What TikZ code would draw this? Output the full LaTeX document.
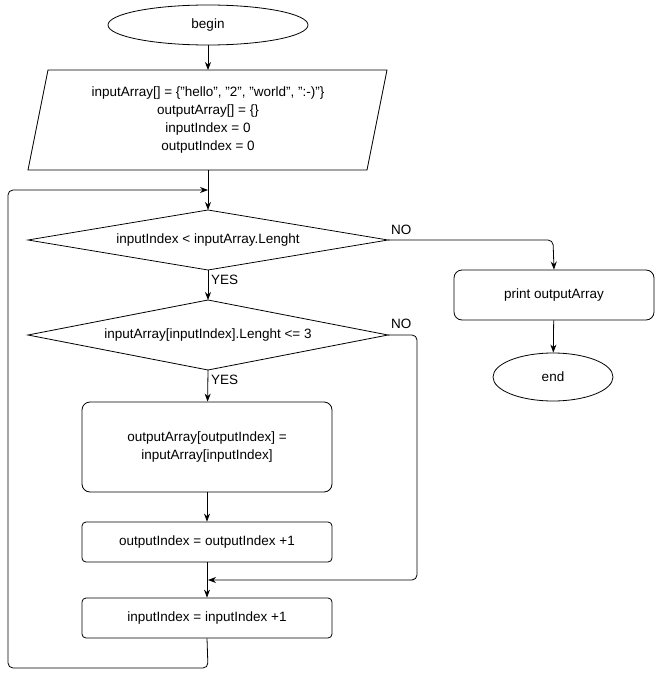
\documentclass[tikz,border=0pt]{standalone}
\usepackage{fontspec}
\setmainfont{Liberation Sans}
\usetikzlibrary{shapes.geometric,arrows.meta}
\begin{document}
\begin{tikzpicture}[x=1pt,y=-1pt,
  every node/.style={font=\fontsize{13.5}{18}\selectfont},
  box/.style={draw,thick,rounded corners=8pt,align=center,inner sep=0pt},
  ell/.style={draw,thick,ellipse,inner sep=0pt},
  line/.style={thick,-{Stealth[length=8pt,width=6pt]}},
  lbl/.style={inner sep=1pt}]
\useasboundingbox (0,0) rectangle (654,679);
\node[ell,minimum width=200pt,minimum height=40pt] (begin) at (208,25) {begin};
\draw[thick] (48,70) -- (387,70) -- (367,170) -- (28,170) -- cycle;
\node[align=center] (init) at (208,120) {inputArray[] = \{"hello", "2", "world", ":-)"\}\\outputArray[] = \{\}\\inputIndex = 0\\outputIndex = 0};
\coordinate (pt) at (208,70);
\coordinate (pb) at (208,170);
\draw[thick] (208,210) -- (388,240) -- (208,270) -- (28,240) -- cycle;
\node (d1) at (208,240) {inputIndex < inputArray.Lenght};
\coordinate (d1t) at (208,210); \coordinate (d1b) at (208,270); \coordinate (d1r) at (388,240);
\draw[thick] (208,300) -- (388,335) -- (208,370) -- (28,335) -- cycle;
\node (d2) at (208,335) {inputArray[inputIndex].Lenght <= 3};
\coordinate (d2t) at (208,300); \coordinate (d2b) at (208,370); \coordinate (d2r) at (388,335);
\node[box,minimum width=200pt,minimum height=50pt] (print) at (554,295) {print outputArray};
\node[ell,minimum width=120pt,minimum height=48pt] (end) at (553,377) {end};
\node[box,minimum width=250pt,minimum height=90pt] (assign) at (207,447) {outputArray[outputIndex] =\\inputArray[inputIndex]};
\node[box,rounded corners=4pt,minimum width=250pt,minimum height=40pt] (incout) at (207,542) {outputIndex = outputIndex +1};
\node[box,rounded corners=4pt,minimum width=250pt,minimum height=40pt] (incin) at (207,618) {inputIndex = inputIndex +1};
\coordinate (merge) at (208,580);
\coordinate (loop) at (208,190);
\draw[line] (begin) -- (pt);
\draw[line] (pb) -- (d1t);
\draw[line,rounded corners=5pt] (d1r) -- (553,240) -- (print.north);
\draw[line] (print) -- (end);
\draw[line] (d1b) -- (d2t);
\draw[line] (d2b) -- (assign);
\draw[line] (assign) -- (incout);
\draw[line] (incout) -- (incin);
\draw[line,rounded corners=5pt] (d2r) -- (417,335) -- (417,580) -- (merge);
\draw[line,rounded corners=5pt] (incin.south) -- (208,668) -- (8,668) -- (8,190) -- (loop);
\node[lbl,anchor=west] at (390,230) {NO};
\node[lbl,anchor=west] at (390,324) {NO};
\node[lbl,anchor=west] at (210,280) {YES};
\node[lbl,anchor=west] at (210,380) {YES};
\end{tikzpicture}
\end{document}
